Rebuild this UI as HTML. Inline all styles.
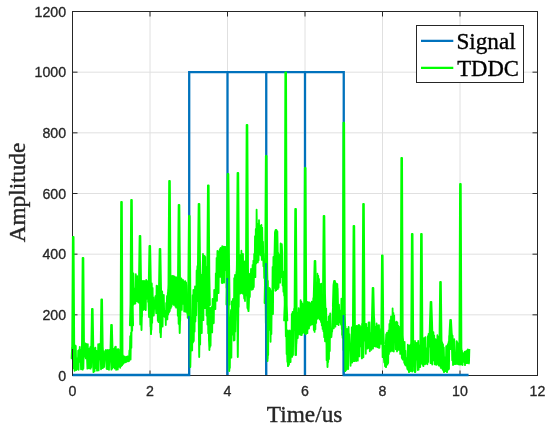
<!DOCTYPE html>
<html><head><meta charset="utf-8"><title>Signal vs TDDC</title>
<style>html,body{margin:0;padding:0;background:#fff;width:550px;height:429px;overflow:hidden}svg{display:block}</style>
</head><body><svg width="550" height="429" viewBox="0 0 550 429"><path d="M150.00 11.5V375.5 M227.50 11.5V375.5 M305.00 11.5V375.5 M382.50 11.5V375.5 M460.00 11.5V375.5 M72.5 314.83H537.5 M72.5 254.17H537.5 M72.5 193.50H537.5 M72.5 132.83H537.5 M72.5 72.17H537.5" stroke="#e0e0e0" stroke-width="1" fill="none"/><rect x="72.5" y="11.5" width="465" height="364" fill="none" stroke="#262626" stroke-width="1"/><path d="M72.50 375.5v-5M72.50 11.5v5M150.00 375.5v-5M150.00 11.5v5M227.50 375.5v-5M227.50 11.5v5M305.00 375.5v-5M305.00 11.5v5M382.50 375.5v-5M382.50 11.5v5M460.00 375.5v-5M460.00 11.5v5M537.50 375.5v-5M537.50 11.5v5M72.5 375.50h5M537.5 375.50h-5M72.5 314.83h5M537.5 314.83h-5M72.5 254.17h5M537.5 254.17h-5M72.5 193.50h5M537.5 193.50h-5M72.5 132.83h5M537.5 132.83h-5M72.5 72.17h5M537.5 72.17h-5M72.5 11.50h5M537.5 11.50h-5" stroke="#262626" stroke-width="1" fill="none"/><path d="M72.50 375.0H189.20V72.17H227.50V375.0V72.17H266.25V375.0V72.17H305.00V375.0V72.17H343.75V375.0H468.55" stroke="#0072bd" stroke-width="2.3" fill="none"/><path d="M72.60 347.0 73.00 368.3 73.40 346.2 73.80 367.5 74.20 349.0 74.60 370.8 75.00 345.4 75.40 358.2 75.80 345.9 76.20 370.0 76.60 369.7 77.00 368.9 77.40 358.1 77.80 368.9 78.20 350.6 78.60 369.8 79.00 349.8 79.40 355.8 79.80 346.9 80.20 361.8 80.60 349.6 81.00 369.3 81.40 352.5 81.80 366.4 82.20 344.0 82.60 369.7 83.00 358.2 83.40 368.6 83.80 350.2 84.20 353.8 84.60 349.9 85.00 350.4 85.40 343.5 85.80 358.4 86.20 344.0 86.60 349.3 87.00 358.6 87.40 368.6 87.80 344.1 88.20 368.3 88.60 365.1 89.00 367.3 89.40 348.7 89.80 368.4 90.20 347.2 90.60 368.7 91.00 346.6 91.40 367.0 91.80 349.5 92.20 354.7 92.60 352.3 93.00 353.5 93.40 360.3 93.80 348.1 94.20 351.5 94.60 371.1 95.00 359.3 95.40 347.7 95.80 362.1 96.20 368.1 96.60 350.9 97.00 370.7 97.40 356.7 97.80 367.7 98.20 344.1 98.60 370.4 99.00 358.0 99.40 345.0 99.80 343.9 100.20 359.4 100.60 345.5 101.00 369.3 101.40 346.2 101.80 361.0 102.20 359.5 102.60 368.1 103.00 351.2 103.40 367.5 103.80 354.3 104.20 367.0 104.60 360.5 105.00 351.2 105.40 351.1 105.80 350.0 106.20 350.1 106.60 368.8 107.00 352.4 107.40 369.2 107.80 349.9 108.20 369.0 108.60 352.6 109.00 369.8 109.40 349.9 109.80 358.6 110.20 349.9 110.60 352.5 111.00 362.6 111.40 369.7 111.80 349.1 112.20 368.5 112.60 351.2 113.00 367.2 113.40 348.8 113.80 366.6 114.20 364.9 114.60 368.5 115.00 347.1 115.40 363.7 115.80 346.6 116.20 369.9 116.60 368.1 117.00 368.4 117.40 349.5 117.80 369.6 118.20 349.1 118.60 366.8 119.00 349.6 119.40 365.9 119.80 353.4 120.20 367.8 120.60 354.3 121.00 366.1 121.40 356.0 121.80 365.5 122.20 357.2 122.60 361.8 123.00 355.9 123.40 363.8 123.80 357.7 124.20 357.3 124.60 356.5 125.00 362.5 125.40 357.4 125.80 362.2 126.20 356.9 126.60 361.9 127.00 356.7 127.40 361.0 127.80 356.3 128.20 361.3 128.60 357.9 129.00 361.1 129.40 350.5 129.80 355.7 130.20 336.1 130.60 359.6 131.00 332.7 131.40 347.8 131.80 296.3 132.20 330.7 132.60 289.3 133.00 305.1 133.40 273.4 133.80 304.2 134.20 288.3 134.60 302.9 135.00 289.7 135.40 303.5 135.80 274.2 136.20 297.8 136.60 291.9 137.00 301.2 137.40 276.2 137.80 301.7 138.20 279.3 138.60 302.5 139.00 291.0 139.40 296.5 139.80 279.2 140.20 324.6 140.60 300.4 141.00 316.8 141.40 297.3 141.80 316.2 142.20 280.8 142.60 309.9 143.00 292.4 143.40 309.9 143.80 281.0 144.20 309.2 144.60 281.2 145.00 309.3 145.40 301.6 145.80 310.1 146.20 279.9 146.60 286.4 147.00 298.9 147.40 281.6 147.80 281.1 148.20 286.3 148.60 306.3 149.00 317.0 149.40 292.5 149.80 302.1 150.20 290.4 150.60 326.6 151.00 283.3 151.40 329.7 151.80 283.4 152.20 322.7 152.60 287.9 153.00 314.9 153.40 297.5 153.80 315.5 154.20 305.3 154.60 308.7 155.00 307.6 155.40 296.1 155.80 305.7 156.20 313.2 156.60 285.7 157.00 307.5 157.40 286.1 157.80 320.8 158.20 293.6 158.60 322.2 159.00 288.1 159.40 296.4 159.80 293.5 160.20 332.5 160.60 287.9 161.00 310.0 161.40 291.3 161.80 316.2 162.20 291.5 162.60 326.6 163.00 295.4 163.40 310.7 163.80 294.8 164.20 313.2 164.60 316.8 165.00 313.3 165.40 310.6 165.80 325.0 166.20 303.0 166.60 308.8 167.00 295.9 167.40 319.4 167.80 292.8 168.20 314.5 168.60 289.5 169.00 312.4 169.40 294.6 169.80 311.1 170.20 280.2 170.60 308.4 171.00 275.9 171.40 306.8 171.80 303.6 172.20 290.1 172.60 275.9 173.00 303.9 173.40 276.2 173.80 304.9 174.20 276.5 174.60 300.7 175.00 280.1 175.40 306.5 175.80 277.1 176.20 307.7 176.60 277.6 177.00 306.1 177.40 287.1 177.80 315.7 178.20 277.9 178.60 323.8 179.00 278.9 179.40 324.1 179.80 296.5 180.20 320.9 180.60 293.2 181.00 305.1 181.40 278.4 181.80 309.9 182.20 280.1 182.60 303.0 183.00 279.9 183.40 303.9 183.80 281.1 184.20 311.6 184.60 283.1 185.00 304.8 185.40 281.2 185.80 311.8 186.20 282.7 186.60 294.6 187.00 306.6 187.40 313.7 187.80 303.5 188.20 302.5 188.60 285.0 189.00 336.2 189.40 288.6 189.80 330.8 190.20 308.5 190.60 325.0 191.00 329.2 191.40 350.5 191.80 317.6 192.20 350.4 192.60 295.2 193.00 342.4 193.40 289.9 193.80 341.1 194.20 304.2 194.60 331.6 195.00 286.4 195.40 321.6 195.80 304.7 196.20 315.3 196.60 270.4 197.00 294.6 197.40 266.1 197.80 295.3 198.20 276.6 198.60 300.0 199.00 327.9 199.40 337.8 199.80 294.1 200.20 344.4 200.60 284.8 201.00 333.2 201.40 274.8 201.80 333.1 202.20 277.6 202.60 271.1 203.00 253.9 203.40 320.2 203.80 261.2 204.20 286.7 204.60 256.0 205.00 308.0 205.40 257.0 205.80 300.5 206.20 277.6 206.60 315.5 207.00 266.9 207.40 324.5 207.80 271.6 208.20 333.3 208.60 275.5 209.00 340.2 209.40 341.8 209.80 347.0 210.20 308.0 210.60 345.7 211.00 310.7 211.40 327.6 211.80 307.0 212.20 332.4 212.60 298.8 213.00 323.4 213.40 314.8 213.80 323.1 214.20 289.9 214.60 308.0 215.00 305.8 215.40 309.2 215.80 273.3 216.20 295.2 216.60 258.0 217.00 300.8 217.40 251.0 217.80 291.7 218.20 251.3 218.60 293.0 219.00 260.1 219.40 256.8 219.80 249.2 220.20 276.8 220.60 248.0 221.00 263.3 221.40 250.3 221.80 282.9 222.20 246.2 222.60 283.1 223.00 248.3 223.40 282.3 223.80 246.6 224.20 282.5 224.60 247.1 225.00 270.1 225.40 246.9 225.80 249.4 226.20 251.7 226.60 287.8 227.00 256.1 227.40 291.7 227.80 296.1 228.20 349.2 228.60 269.2 229.00 344.4 229.40 330.1 229.80 367.8 230.20 322.5 230.60 318.8 231.00 309.8 231.40 357.7 231.80 301.3 232.20 334.7 232.60 305.0 233.00 298.8 233.40 315.9 233.80 340.6 234.20 278.1 234.60 340.0 235.00 275.0 235.40 331.4 235.80 318.3 236.20 301.2 236.60 271.8 237.00 299.4 237.40 267.6 237.80 320.5 238.20 277.2 238.60 306.8 239.00 257.9 239.40 277.6 239.80 255.0 240.20 293.6 240.60 256.2 241.00 282.5 241.40 250.7 241.80 293.0 242.20 253.8 242.60 293.5 243.00 254.0 243.40 292.9 243.80 291.6 244.20 298.5 244.60 261.6 245.00 301.1 245.40 261.1 245.80 295.4 246.20 264.7 246.60 281.5 247.00 294.7 247.40 308.0 247.80 301.2 248.20 309.5 248.60 288.1 249.00 297.1 249.40 273.9 249.80 296.9 250.20 277.0 250.60 286.8 251.00 269.0 251.40 286.4 251.80 289.8 252.20 286.5 252.60 264.8 253.00 289.1 253.40 260.6 253.80 287.0 254.20 253.9 254.60 272.3 255.00 236.1 255.40 277.2 255.80 229.0 256.20 263.4 256.60 209.6 257.00 232.7 257.40 223.7 257.80 262.4 258.20 250.4 258.60 260.3 259.00 220.1 259.40 248.7 259.80 225.7 260.20 254.7 260.60 228.5 261.00 255.6 261.40 224.8 261.80 259.9 262.20 227.7 262.60 253.9 263.00 241.7 263.40 266.2 263.80 253.8 264.20 278.1 264.60 258.8 265.00 297.1 265.40 291.1 265.80 323.2 266.20 274.4 266.60 348.2 267.00 305.7 267.40 358.4 267.80 280.9 268.20 354.9 268.60 290.1 269.00 329.9 269.40 287.9 269.80 317.1 270.20 288.9 270.60 341.8 271.00 290.9 271.40 334.1 271.80 297.4 272.20 309.8 272.60 267.0 273.00 314.0 273.40 256.9 273.80 288.0 274.20 269.0 274.60 277.7 275.00 240.0 275.40 290.8 275.80 233.8 276.20 290.2 276.60 236.3 277.00 283.7 277.40 231.4 277.80 289.0 278.20 252.9 278.60 287.6 279.00 256.4 279.40 254.6 279.80 275.9 280.20 282.7 280.60 243.5 281.00 277.2 281.40 246.9 281.80 244.2 282.20 252.4 282.60 285.5 283.00 274.3 283.40 291.7 283.80 271.7 284.20 295.5 284.60 282.9 285.00 310.2 285.40 304.8 285.80 336.3 286.20 317.3 286.60 354.0 287.00 330.9 287.40 361.8 287.80 330.5 288.20 363.1 288.60 336.3 289.00 364.7 289.40 331.0 289.80 330.4 290.20 347.8 290.60 362.1 291.00 333.7 291.40 353.1 291.80 313.9 292.20 356.8 292.60 312.0 293.00 355.1 293.40 313.9 293.80 320.9 294.20 309.0 294.60 327.9 295.00 318.1 295.40 355.1 295.80 331.0 296.20 344.0 296.60 335.6 297.00 333.1 297.40 312.8 297.80 338.0 298.20 315.0 298.60 308.2 299.00 319.4 299.40 334.4 299.80 310.8 300.20 333.1 300.60 300.1 301.00 335.1 301.40 301.7 301.80 335.0 302.20 303.3 302.60 333.2 303.00 311.1 303.40 332.4 303.80 304.1 304.20 329.4 304.60 302.8 305.00 333.6 305.40 312.9 305.80 334.2 306.20 301.5 306.60 312.9 307.00 310.1 307.40 333.2 307.80 302.0 308.20 328.8 308.60 305.5 309.00 328.4 309.40 302.5 309.80 325.7 310.20 311.1 310.60 324.9 311.00 303.2 311.40 324.6 311.80 301.7 312.20 324.3 312.60 301.8 313.00 324.1 313.40 298.2 313.80 330.0 314.20 292.9 314.60 331.9 315.00 286.9 315.40 329.3 315.80 282.4 316.20 322.9 316.60 285.7 317.00 319.1 317.40 273.7 317.80 318.0 318.20 275.7 318.60 282.8 319.00 279.0 319.40 319.1 319.80 284.0 320.20 319.8 320.60 288.9 321.00 322.0 321.40 283.6 321.80 325.4 322.20 296.7 322.60 328.9 323.00 305.1 323.40 331.3 323.80 325.0 324.20 337.1 324.60 296.7 325.00 341.3 325.40 319.4 325.80 341.5 326.20 308.6 326.60 360.2 327.00 326.8 327.40 321.8 327.80 322.1 328.20 361.9 328.60 316.7 329.00 359.1 329.40 315.7 329.80 351.1 330.20 313.3 330.60 337.4 331.00 329.4 331.40 337.1 331.80 332.1 332.20 331.5 332.60 313.3 333.00 307.0 333.40 321.2 333.80 328.3 334.20 288.0 334.60 321.6 335.00 318.0 335.40 326.7 335.80 283.2 336.20 304.0 336.60 284.9 337.00 324.2 337.40 288.4 337.80 317.6 338.20 316.6 338.60 325.1 339.00 304.6 339.40 316.7 339.80 310.5 340.20 322.5 340.60 317.5 341.00 324.6 341.40 298.6 341.80 329.0 342.20 314.5 342.60 337.8 343.00 308.8 343.40 350.0 343.80 325.4 344.20 354.7 344.60 331.7 345.00 370.0 345.40 326.3 345.80 370.3 346.20 336.7 346.60 369.5 347.00 328.9 347.40 355.1 347.80 335.8 348.20 369.1 348.60 327.0 349.00 347.7 349.40 334.1 349.80 344.0 350.20 351.0 350.60 365.8 351.00 352.5 351.40 354.3 351.80 327.4 352.20 362.6 352.60 326.9 353.00 360.2 353.40 355.4 353.80 361.1 354.20 330.2 354.60 361.1 355.00 326.4 355.40 354.9 355.80 326.3 356.20 361.1 356.60 326.0 357.00 355.0 357.40 329.8 357.80 360.7 358.20 325.4 358.60 329.5 359.00 325.0 359.40 356.4 359.80 325.6 360.20 346.4 360.60 328.8 361.00 345.5 361.40 326.8 361.80 358.4 362.20 323.9 362.60 357.8 363.00 339.5 363.40 357.2 363.80 323.9 364.20 328.1 364.60 324.0 365.00 335.5 365.40 323.9 365.80 353.8 366.20 323.8 366.60 339.8 367.00 327.6 367.40 348.5 367.80 332.9 368.20 335.2 368.60 322.4 369.00 348.1 369.40 322.5 369.80 351.3 370.20 335.4 370.60 346.8 371.00 333.0 371.40 349.8 371.80 321.0 372.20 347.8 372.60 326.1 373.00 348.5 373.40 316.5 373.80 346.3 374.20 317.9 374.60 345.0 375.00 328.1 375.40 346.5 375.80 326.7 376.20 343.9 376.60 323.4 377.00 347.0 377.40 347.1 377.80 347.3 378.20 325.3 378.60 347.7 379.00 325.2 379.40 347.9 379.80 342.5 380.20 342.6 380.60 340.7 381.00 329.2 381.40 332.2 381.80 335.8 382.20 332.5 382.60 357.2 383.00 354.2 383.40 342.2 383.80 357.1 384.20 362.4 384.60 346.0 385.00 366.2 385.40 366.4 385.80 343.5 386.20 334.1 386.60 340.9 387.00 332.6 387.40 364.7 387.80 340.2 388.20 363.0 388.60 330.3 389.00 354.1 389.40 323.9 389.80 345.7 390.20 320.1 390.60 351.6 391.00 316.4 391.40 339.8 391.80 323.9 392.20 350.8 392.60 308.3 393.00 351.0 393.40 313.0 393.80 351.6 394.20 315.4 394.60 340.2 395.00 326.9 395.40 322.4 395.80 349.3 396.20 333.3 396.60 321.6 397.00 351.4 397.40 322.4 397.80 349.9 398.20 325.7 398.60 349.8 399.00 326.6 399.40 339.8 399.80 329.0 400.20 353.9 400.60 346.5 401.00 346.4 401.40 334.2 401.80 357.9 402.20 346.0 402.60 359.5 403.00 339.3 403.40 359.3 403.80 342.8 404.20 362.8 404.60 341.8 405.00 364.7 405.40 350.6 405.80 365.5 406.20 365.4 406.60 358.6 407.00 366.5 407.40 369.0 407.80 344.7 408.20 370.0 408.60 346.4 409.00 370.8 409.40 345.6 409.80 368.9 410.20 344.9 410.60 371.1 411.00 344.3 411.40 360.1 411.80 344.4 412.20 371.5 412.60 342.9 413.00 370.8 413.40 346.8 413.80 365.7 414.20 362.6 414.60 358.9 415.00 341.0 415.40 371.8 415.80 351.0 416.20 359.5 416.60 342.9 417.00 356.5 417.40 343.6 417.80 370.1 418.20 340.8 418.60 369.7 419.00 345.3 419.40 350.3 419.80 359.4 420.20 367.1 420.60 345.1 421.00 346.6 421.40 351.6 421.80 363.6 422.20 339.3 422.60 364.8 423.00 338.1 423.40 366.2 423.80 343.8 424.20 338.2 424.60 339.7 425.00 364.3 425.40 337.2 425.80 363.6 426.20 348.2 426.60 363.4 427.00 360.1 427.40 364.3 427.80 336.2 428.20 361.9 428.60 333.8 429.00 346.5 429.40 345.2 429.80 336.0 430.20 330.3 430.60 363.2 431.00 325.5 431.40 359.9 431.80 326.9 432.20 364.5 432.60 337.7 433.00 341.2 433.40 332.1 433.80 360.3 434.20 335.4 434.60 364.3 435.00 354.9 435.40 339.1 435.80 339.6 436.20 364.9 436.60 355.9 437.00 364.1 437.40 335.2 437.80 351.0 438.20 336.3 438.60 365.5 439.00 360.8 439.40 343.9 439.80 339.0 440.20 366.6 440.60 340.2 441.00 368.1 441.40 341.5 441.80 344.2 442.20 342.8 442.60 369.6 443.00 344.2 443.40 370.5 443.80 347.5 444.20 363.4 444.60 358.3 445.00 367.1 445.40 357.2 445.80 371.1 446.20 346.1 446.60 349.6 447.00 345.9 447.40 370.5 447.80 344.1 448.20 369.6 448.60 341.9 449.00 368.9 449.40 336.0 449.80 339.6 450.20 332.6 450.60 342.8 451.00 331.9 451.40 333.7 451.80 340.4 452.20 360.3 452.60 335.6 453.00 365.0 453.40 346.5 453.80 364.3 454.20 339.1 454.60 352.7 455.00 353.9 455.40 364.1 455.80 360.5 456.20 362.2 456.60 341.1 457.00 364.1 457.40 342.2 457.80 343.6 458.20 343.4 458.60 364.4 459.00 344.9 459.40 364.5 459.80 346.8 460.20 352.5 460.60 348.1 461.00 364.7 461.40 361.5 461.80 350.7 462.20 363.9 462.60 365.0 463.00 353.1 463.40 354.9 463.80 353.1 464.20 361.9 464.60 352.0 465.00 365.1 465.40 351.5 465.80 360.7 466.20 356.0 466.60 363.2 467.00 350.4 467.40 363.0 467.80 349.4 468.20 362.6 468.60 355.5 469.00 363.4 469.40 349.0" stroke="#00ff00" stroke-width="1.8" fill="none" stroke-linejoin="round"/><path d="M71.60 358.3L72.20 346.1L72.85 236.9L73.55 236.9L74.20 346.1L74.80 358.3ZM81.40 356.6L82.00 343.5L82.65 257.9L83.35 257.9L84.00 343.5L84.60 356.6ZM90.70 358.7L91.30 347.2L91.95 308.9L92.65 308.9L93.30 347.2L93.90 358.7ZM100.10 357.6L100.70 346.6L101.35 299.4L102.05 299.4L102.70 346.6L103.30 357.6ZM109.90 359.2L110.50 348.5L111.15 324.9L111.85 324.9L112.50 348.5L113.10 359.2ZM119.90 359.8L120.50 353.5L121.15 201.9L121.85 201.9L122.50 353.5L123.10 359.8ZM129.90 325.3L130.50 304.3L131.15 199.9L131.85 199.9L132.50 304.3L133.10 325.3ZM138.40 300.8L139.00 279.5L139.65 235.9L140.35 235.9L141.00 279.5L141.60 300.8ZM148.20 301.7L148.80 281.4L149.45 245.9L150.15 245.9L150.80 281.4L151.40 301.7ZM158.40 309.8L159.00 287.5L159.65 248.9L160.35 248.9L161.00 287.5L161.60 309.8ZM167.90 298.0L168.50 284.0L169.15 180.9L169.85 180.9L170.50 284.0L171.10 298.0ZM177.40 302.7L178.00 278.0L178.65 204.9L179.35 204.9L180.00 278.0L180.60 302.7ZM187.70 317.8L188.30 288.2L188.95 215.9L189.65 215.9L190.30 288.2L190.90 317.8ZM197.40 301.3L198.00 260.3L198.65 203.9L199.35 203.9L200.00 260.3L200.60 301.3ZM206.70 305.0L207.30 273.8L207.95 185.5L208.65 185.5L209.30 273.8L209.90 305.0ZM226.40 304.5L227.00 258.5L227.65 173.9L228.35 173.9L229.00 258.5L229.60 304.5ZM236.30 292.2L236.90 264.2L237.55 172.9L238.25 172.9L238.90 264.2L239.50 292.2ZM245.40 287.7L246.00 268.7L246.65 125.0L247.35 125.0L248.00 268.7L248.60 287.7ZM264.60 303.0L265.20 270.2L265.85 155.9L266.55 155.9L267.20 270.2L267.80 303.0ZM274.40 261.3L275.00 232.3L275.65 229.9L276.35 229.9L277.00 232.3L277.60 261.3ZM284.10 320.4L284.70 305.0L285.35 72.5L286.05 72.5L286.70 305.0L287.30 320.4ZM294.00 330.0L294.60 305.7L295.25 208.9L295.95 208.9L296.60 305.7L297.20 330.0ZM303.60 318.6L304.20 302.2L304.85 167.9L305.55 167.9L306.20 302.2L306.80 318.6ZM313.40 309.4L314.00 287.0L314.65 260.9L315.35 260.9L316.00 287.0L316.60 309.4ZM322.40 315.0L323.00 293.7L323.65 215.9L324.35 215.9L325.00 293.7L325.60 315.0ZM332.90 306.4L333.50 285.2L334.15 280.9L334.85 280.9L335.50 285.2L336.10 306.4ZM334.70 305.0L335.30 284.2L335.95 283.9L336.65 283.9L337.30 284.2L337.90 305.0ZM342.20 334.8L342.80 314.4L343.45 122.7L344.15 122.7L344.80 314.4L345.40 334.8ZM352.30 343.9L352.90 326.8L353.55 225.9L354.25 225.9L354.90 326.8L355.50 343.9ZM361.90 340.5L362.50 324.0L363.15 203.9L363.85 203.9L364.50 324.0L365.10 340.5ZM371.40 332.6L372.00 316.7L372.65 287.9L373.35 287.9L374.00 316.7L374.60 332.6ZM380.70 343.7L381.30 330.6L381.95 255.5L382.65 255.5L383.30 330.6L383.90 343.7ZM400.10 346.4L400.70 335.1L401.35 157.9L402.05 157.9L402.70 335.1L403.30 346.4ZM410.60 357.4L411.20 343.3L411.85 233.9L412.55 233.9L413.20 343.3L413.80 357.4ZM419.80 353.3L420.40 339.1L421.05 233.9L421.75 233.9L422.40 339.1L423.00 353.3ZM429.40 342.0L430.00 321.0L430.65 301.9L431.35 301.9L432.00 321.0L432.60 342.0ZM438.90 353.8L439.50 340.0L440.15 281.9L440.85 281.9L441.50 340.0L442.10 353.8ZM449.00 349.0L449.60 331.0L450.25 319.9L450.95 319.9L451.60 331.0L452.20 349.0ZM458.80 356.2L459.40 347.8L460.05 183.9L460.75 183.9L461.40 347.8L462.00 356.2ZM189.60 330.7L190.30 367.1L191.00 330.7M198.50 302.4L199.20 357.1L199.90 302.4M208.70 314.6L209.40 350.1L210.10 314.6M228.60 325.6L229.30 371.1L230.00 325.6M237.10 293.5L237.80 357.1L238.50 293.5M247.80 293.5L248.50 311.1L249.20 293.5M266.80 318.9L267.50 361.1L268.20 318.9M287.30 347.8L288.00 366.1L288.70 347.8M295.30 328.0L296.00 355.1L296.70 328.0M326.80 340.2L327.50 367.1L328.20 340.2M344.50 347.1L345.20 371.1L345.90 347.1M385.30 350.2L386.00 367.1L386.70 350.2M160.10 312.0L160.80 337.1L161.50 312.0M150.30 308.5L151.00 334.1L151.70 308.5M140.80 300.0L141.50 330.1L142.20 300.0M179.00 303.5L179.70 333.1L180.40 303.5M408.30 358.5L409.00 372.1L409.70 358.5M414.30 356.5L415.00 372.1L415.70 356.5M443.30 358.5L444.00 372.1L444.70 358.5M446.30 358.5L447.00 372.1L447.70 358.5M92.80 359.5L93.50 372.1L94.20 359.5M121.30 359.8L122.00 365.1L122.70 359.8" stroke="#00ff00" stroke-width="1.9" fill="#00ff00" stroke-linejoin="round"/><path d="M188.80 316V375.0M227.20 278V375.0M265.95 263V375.0M304.70 335V375.0M343.45 315V375.0" stroke="#0072bd" stroke-width="1.6" fill="none"/><path d="M72.5 349V375.5" stroke="#262626" stroke-width="1"/><g font-family="Liberation Sans, Arial, sans-serif" font-size="14.2" fill="#262626" stroke="#262626" stroke-width="0.3"><text x="72.50" y="396" text-anchor="middle">0</text><text x="150.00" y="396" text-anchor="middle">2</text><text x="227.50" y="396" text-anchor="middle">4</text><text x="305.00" y="396" text-anchor="middle">6</text><text x="382.50" y="396" text-anchor="middle">8</text><text x="460.00" y="396" text-anchor="middle">10</text><text x="537.50" y="396" text-anchor="middle">12</text><text x="66.1" y="380.70" text-anchor="end">0</text><text x="66.1" y="320.03" text-anchor="end">200</text><text x="66.1" y="259.37" text-anchor="end">400</text><text x="66.1" y="198.70" text-anchor="end">600</text><text x="66.1" y="138.03" text-anchor="end">800</text><text x="66.1" y="77.37" text-anchor="end">1000</text><text x="66.1" y="16.70" text-anchor="end">1200</text></g><text x="304.6" y="421.6" text-anchor="middle" font-family="Liberation Serif, Times New Roman, serif" font-size="23.3" fill="#262626" stroke="#262626" stroke-width="0.35">Time/us</text><text transform="translate(24.8 192.5) rotate(-90)" text-anchor="middle" font-family="Liberation Serif, Times New Roman, serif" font-size="23.3" fill="#262626" stroke="#262626" stroke-width="0.35">Amplitude</text><rect x="416.5" y="25.5" width="107" height="57" fill="#fff" stroke="#262626" stroke-width="1"/><path d="M421 40.8H453.3" stroke="#0072bd" stroke-width="2.3"/><path d="M421 67.8H453.3" stroke="#00ff00" stroke-width="2.3"/><g font-family="Liberation Serif, Times New Roman, serif" font-size="23.2" fill="#000" stroke="#000" stroke-width="0.35"><text x="456.4" y="48.8">Signal</text><text x="457.2" y="76.0" font-size="22.7">TDDC</text></g></svg></body></html>
